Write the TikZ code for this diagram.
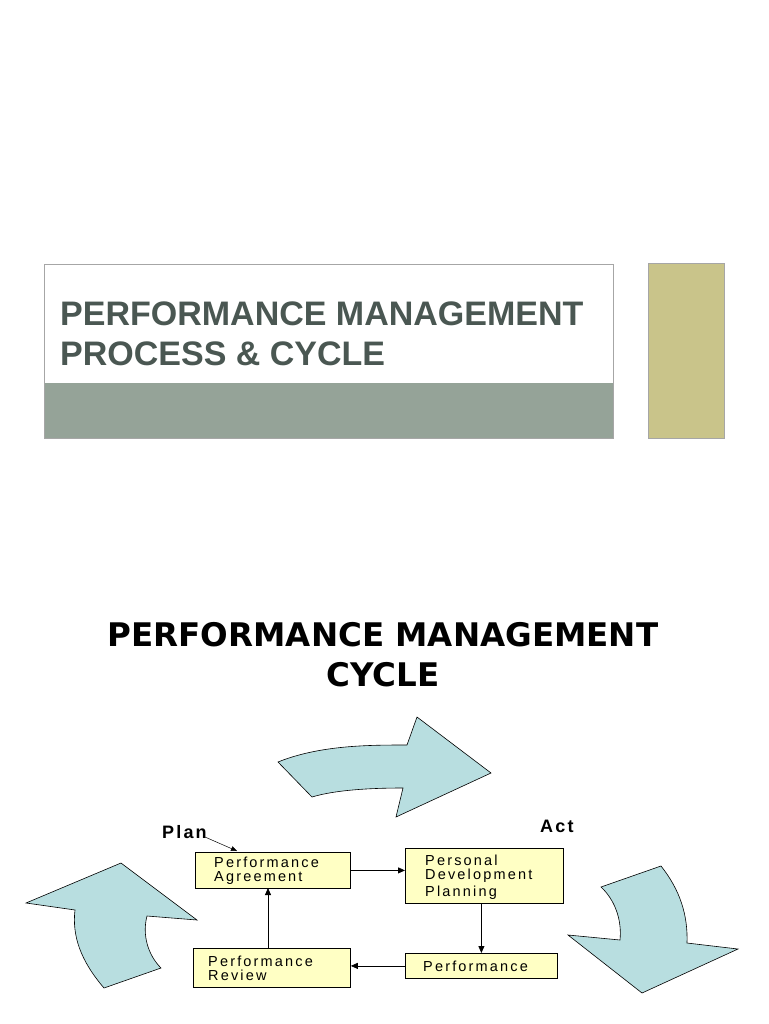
\documentclass[tikz,border=0pt]{standalone}
\usepackage{fontspec}
\setmainfont{Liberation Sans}
\newfontfamily\dejab{DejaVu Sans}
\newfontfamily\boxfont[LetterSpace=15]{Liberation Sans}
\newfontfamily\lblfont[LetterSpace=12]{Liberation Sans}
\usetikzlibrary{arrows.meta}
\definecolor{band}{HTML}{95A398}
\definecolor{tan}{HTML}{C9C48A}
\definecolor{ttl}{HTML}{4A5752}
\definecolor{boxf}{HTML}{FFFFC4}
\definecolor{arr}{HTML}{B8DEE0}
\begin{document}
\begin{tikzpicture}[x=1pt,y=-1pt,
  pbox/.style={draw=black,fill=boxf,line width=0.8pt,anchor=north west,inner sep=0pt},
  ptxt/.style={font=\boxfont\fontsize{14.5}{14}\selectfont,align=left,anchor=west,inner sep=0pt},
  conn/.style={-{Triangle[length=7pt,width=6pt]},line width=0.8pt},
  bigarr/.style={fill=arr,draw=black,line width=0.6pt}]
\useasboundingbox (0,0) rectangle (768,1024);
\fill[white] (0,0) rectangle (768,1024);
% title band
\node[draw=gray!70,fill=white,minimum width=569pt,minimum height=174pt,anchor=north west,inner sep=0pt] (tb) at (44,264) {};
\fill[band] (44.5,383) rectangle (612.5,437.5);
\node[anchor=north west,inner sep=0pt,align=left,text=ttl,font=\bfseries\fontsize{34}{40}\selectfont] (tt) at (60,302) {PERFORMANCE MANAGEMENT\\PROCESS \& CYCLE};
\node[fill=tan,draw=gray!70,minimum width=76pt,minimum height=175pt,anchor=north west,inner sep=0pt] (tan) at (648,263) {};
% cycle title
\node[inner sep=0pt,align=center,font=\dejab\bfseries\fontsize{32.5}{40}\selectfont] (ct) at (383,655) {PERFORMANCE MANAGEMENT\\CYCLE};
% big arrows
\draw[bigarr] (278,762) .. controls (320,745) and (370,745) .. (407,745) -- (417,717) -- (491,773) -- (396,817) -- (403,788) .. controls (370,788) and (335,790) .. (312,797) -- cycle;
\draw[bigarr] (26,903) -- (121,863) -- (197,920) -- (147,916) .. controls (142,935) and (148,955) .. (161,968) -- (104,988) .. controls (80,960) and (72,935) .. (75,910) -- cycle;
\draw[bigarr] (601,887) -- (661,866) .. controls (680,890) and (688,915) .. (687,943) -- (738,949) -- (642,993) -- (568,935) -- (620,940) .. controls (622,920) and (615,900) .. (601,887) -- cycle;
% boxes
\node[pbox,minimum width=155pt,minimum height=36pt] (pa) at (195,852) {};
\node[ptxt] at ([xshift=19pt]pa.west) {Performance\\Agreement};
\node[pbox,minimum width=158pt,minimum height=55pt] (pdp) at (405,848) {};
\node[ptxt] at ([xshift=20pt,yshift=-1pt]pdp.west) {Personal\\Development\\[3pt]Planning};
\node[pbox,minimum width=152pt,minimum height=25pt] (pf) at (405,953) {};
\node[ptxt] at ([xshift=18pt]pf.west) {Performance};
\node[pbox,minimum width=157pt,minimum height=39pt] (pr) at (193,948) {};
\node[ptxt] at ([xshift=15pt]pr.west) {Performance\\Review};
\draw[conn] (pa.east) -- (pdp.west |- pa.east);
\draw[conn] (pdp.south -| pf.north) -- (pf.north);
\draw[conn] (pf.west) -- (pr.east |- pf.west);
\draw[conn] (268,948) -- (268,888);
% labels
\node[inner sep=0pt,anchor=west,font=\lblfont\bfseries\fontsize{18}{18}\selectfont] (plan) at (162,832) {Plan};
\coordinate (pe) at (237,851);
\draw[-{Triangle[length=6pt,width=5pt]},line width=0.5pt] (205,837) -- (pe);
\node[inner sep=0pt,anchor=west,font=\lblfont\bfseries\fontsize{18}{18}\selectfont] (act) at (540,826) {Act};
\end{tikzpicture}
\end{document}
